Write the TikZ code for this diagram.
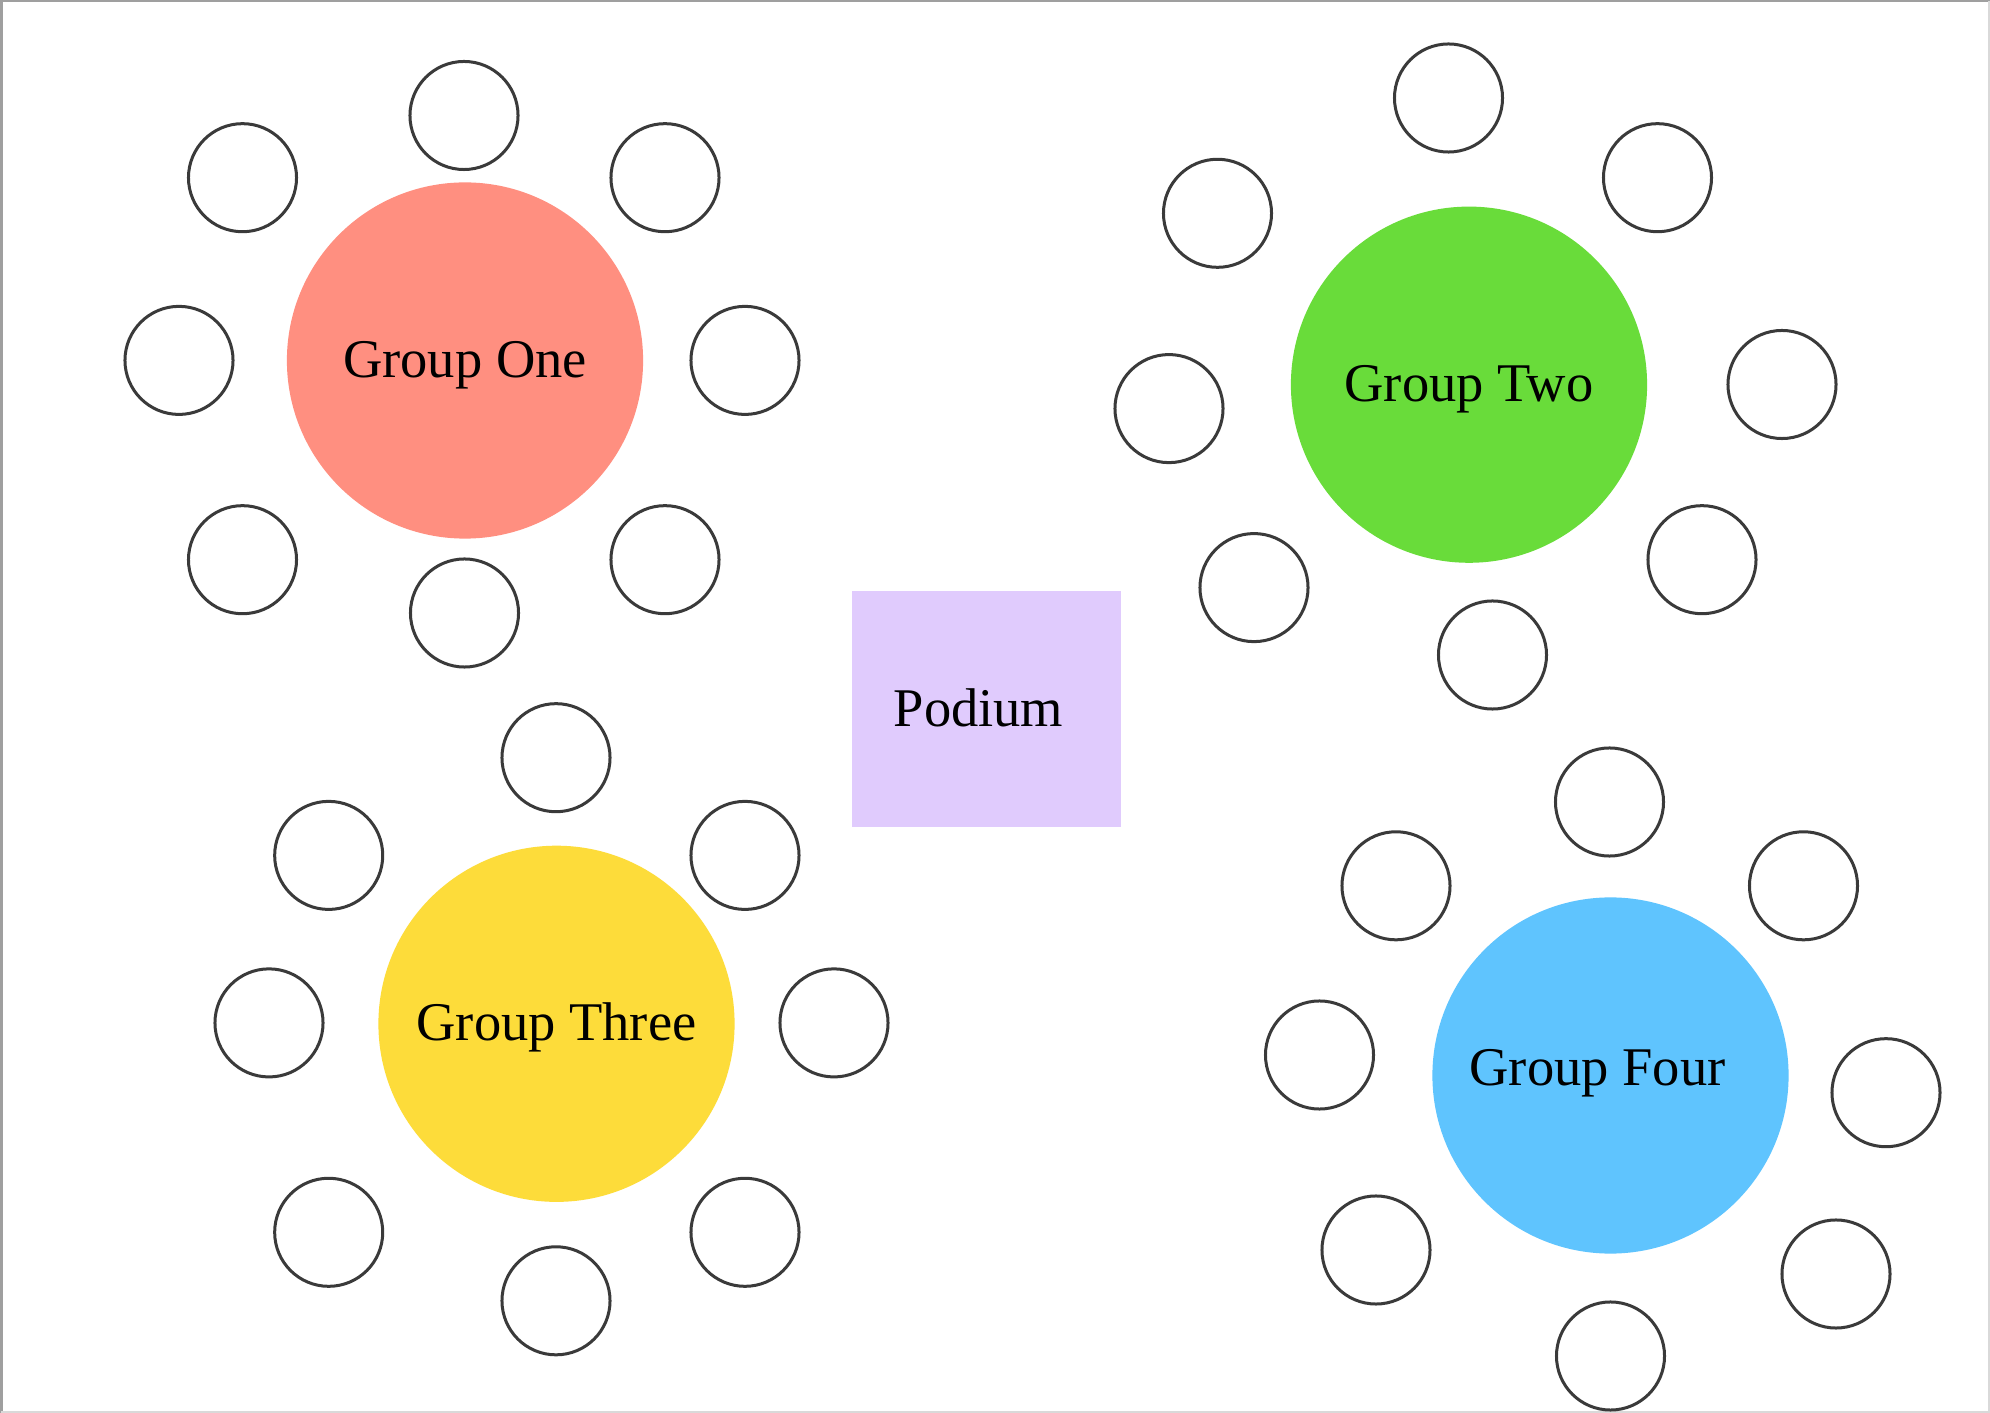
\documentclass[tikz,border=0pt]{standalone}
\usepackage{fontspec}
\setmainfont{Liberation Serif}
\definecolor{tblred}{HTML}{FF8F80}
\definecolor{tblgreen}{HTML}{69DC3A}
\definecolor{tblyellow}{HTML}{FDDC3A}
\definecolor{tblblue}{HTML}{5FC4FE}
\definecolor{podiumfill}{HTML}{E0CBFD}
\definecolor{seatline}{HTML}{3A3A3A}
\begin{document}
\begin{tikzpicture}[x=0.01cm,y=-0.01cm,
  grouptable/.style={circle,draw=none,inner sep=0pt,minimum size=3.56cm,
    font=\fontsize{15.5}{18}\selectfont,text=black,text height=0.40cm,text depth=0.06cm},
  seat/.style={circle,draw=seatline,line width=0.03cm,fill=white,inner sep=0pt,minimum size=1.08cm},
  podiumbox/.style={rectangle,fill=podiumfill,draw=none,inner sep=0pt,minimum width=2.69cm,minimum height=2.36cm,
    font=\fontsize{15.5}{18}\selectfont,text height=0.40cm,text depth=0.05cm}]
\useasboundingbox (0,0) rectangle (1990,1413);
\fill[white] (0,0) rectangle (1990,1413);
% frame
\draw[color=gray!75,line width=0.03cm] (1,1413) -- (1,1) -- (1990,1);
\draw[color=gray!30,line width=0.02cm] (1,1411.5) -- (1988.5,1411.5) -- (1988.5,1);

% Group One
\node[grouptable,fill=tblred] (g1) at (465,360.5) {Group One};
\node[seat] (g1a) at (464,115.5) {};
\node[seat] (g1b) at (242.5,177.7) {};
\node[seat] (g1c) at (665,177.7) {};
\node[seat] (g1d) at (179,360.4) {};
\node[seat] (g1e) at (745,360.4) {};
\node[seat] (g1f) at (242.5,559.7) {};
\node[seat] (g1g) at (665,559.7) {};
\node[seat] (g1h) at (464.5,613) {};

% Group Two
\node[grouptable,fill=tblgreen] (g2) at (1469,384.7) {Group Two};
\node[seat] (g2a) at (1448.5,98) {};
\node[seat] (g2b) at (1217.5,213.3) {};
\node[seat] (g2c) at (1657.5,177.7) {};
\node[seat] (g2d) at (1169,408.6) {};
\node[seat] (g2e) at (1782,384.5) {};
\node[seat] (g2f) at (1254,587.6) {};
\node[seat] (g2g) at (1702,559.7) {};
\node[seat] (g2h) at (1492.5,655) {};

% Group Three
\node[grouptable,fill=tblyellow] (g3) at (556.5,1023.8) {Group Three};
\node[seat] (g3a) at (556,757.7) {};
\node[seat] (g3b) at (328.7,855.4) {};
\node[seat] (g3c) at (745,855.4) {};
\node[seat] (g3d) at (269,1022.9) {};
\node[seat] (g3e) at (834,1022.9) {};
\node[seat] (g3f) at (328.7,1232.3) {};
\node[seat] (g3g) at (745,1232.3) {};
\node[seat] (g3h) at (556,1300.8) {};

% Group Four
\node[grouptable,fill=tblblue,text depth=0.21cm] (g4) at (1610.5,1075.5) {Group Four\kern0.26cm};
\node[seat] (g4a) at (1609.5,802) {};
\node[seat] (g4b) at (1396,885.8) {};
\node[seat] (g4c) at (1803.5,885.8) {};
\node[seat] (g4d) at (1319.5,1055) {};
\node[seat] (g4e) at (1886,1092.7) {};
\node[seat] (g4f) at (1376,1250) {};
\node[seat] (g4g) at (1836,1274) {};
\node[seat] (g4h) at (1610.5,1356) {};

% Podium
\node[podiumbox] (podium) at (986.5,709) {Podium\kern0.16cm};
\end{tikzpicture}
\end{document}
